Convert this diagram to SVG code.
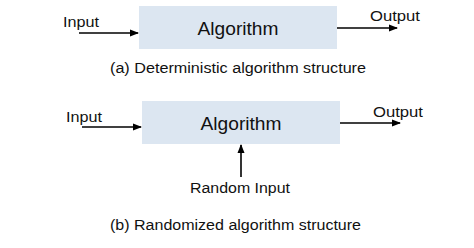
<svg xmlns="http://www.w3.org/2000/svg" width="474" height="248" viewBox="0 0 474 248">
<style>
text{font-family:"Liberation Sans",Arial,sans-serif;fill:#111}
.box{fill:#dce6f1}
.lbl{font-size:15.5px}
.alg{font-size:18px}
.cap{font-size:15.5px}
.ln{stroke:#000;stroke-width:1.6;fill:none}
</style>
<defs>
<marker id="ah" markerWidth="9" markerHeight="8" refX="8" refY="4" orient="auto" markerUnits="userSpaceOnUse">
<path d="M0,0.5 L9,4 L0,7.5 Z" fill="#000"/>
</marker>
</defs>
<rect width="474" height="248" fill="#fff"/>
<g id="alg-a">
<rect class="box" x="139" y="6" width="198" height="43"/>
<text class="alg" x="238" y="35" text-anchor="middle" textLength="81" lengthAdjust="spacingAndGlyphs">Algorithm</text>
</g>
<g id="input-a"><text class="lbl" x="63" y="27" textLength="36" lengthAdjust="spacingAndGlyphs">Input</text></g>
<g id="output-a"><text class="lbl" x="370" y="21" textLength="50" lengthAdjust="spacingAndGlyphs">Output</text></g>
<g id="caption-a"><text class="cap" x="110" y="73" textLength="256" lengthAdjust="spacingAndGlyphs">(a) Deterministic algorithm structure</text></g>
<g id="alg-b">
<rect class="box" x="142" y="101" width="198" height="43"/>
<text class="alg" x="241" y="130" text-anchor="middle" textLength="81" lengthAdjust="spacingAndGlyphs">Algorithm</text>
</g>
<g id="input-b"><text class="lbl" x="66" y="122" textLength="36" lengthAdjust="spacingAndGlyphs">Input</text></g>
<g id="output-b"><text class="lbl" x="373" y="117" textLength="50" lengthAdjust="spacingAndGlyphs">Output</text></g>
<g id="random-b"><text class="lbl" x="190" y="193" textLength="100" lengthAdjust="spacingAndGlyphs">Random Input</text></g>
<g id="caption-b"><text class="cap" x="110" y="230" textLength="251" lengthAdjust="spacingAndGlyphs">(b) Randomized algorithm structure</text></g>
<g id="connectors">
<line class="ln" x1="79" y1="33" x2="138" y2="33" marker-end="url(#ah)"/>
<line class="ln" x1="337" y1="28" x2="397" y2="28" marker-end="url(#ah)"/>
<line class="ln" x1="82" y1="127" x2="141" y2="127" marker-end="url(#ah)"/>
<line class="ln" x1="340" y1="123" x2="400" y2="123" marker-end="url(#ah)"/>
<line class="ln" x1="241" y1="177" x2="241" y2="145" marker-end="url(#ah)"/>
</g>
</svg>
